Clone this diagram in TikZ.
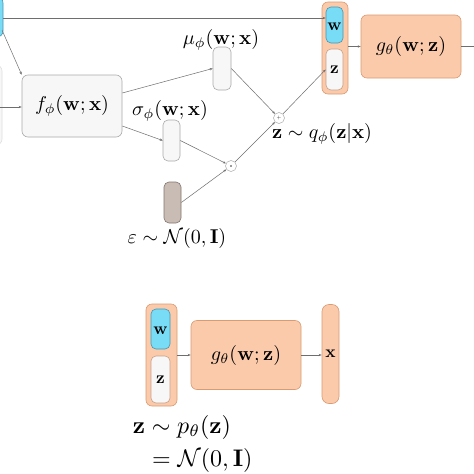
\documentclass[tikz,border=0pt]{standalone}
\usepackage{amsmath,amssymb}
\usetikzlibrary{arrows.meta,calc}
\definecolor{peach}{RGB}{250,202,170}
\definecolor{peachdk}{RGB}{218,155,115}
\definecolor{cyanb}{RGB}{120,220,246}
\definecolor{cyandk}{RGB}{70,150,180}
\definecolor{lgray}{RGB}{247,247,247}
\definecolor{lgraydk}{RGB}{170,170,170}
\definecolor{epsf}{RGB}{200,188,180}
\definecolor{epsdk}{RGB}{130,118,110}
\definecolor{linec}{RGB}{110,110,110}
\newcommand{\tl}[1]{\scalebox{2}{#1}}
\newcommand{\bl}[1]{\scalebox{2.4}{#1}}
\newcommand{\il}[1]{\scalebox{1.7}{#1}}
\tikzset{
  x=1pt,y=-1pt,
  box/.style={draw, rounded corners=6pt, inner sep=0pt, line width=0.6pt},
  graybox/.style={box, fill=lgray, draw=lgraydk},
  peachbox/.style={box, fill=peach, draw=peachdk},
  cyanbox/.style={box, fill=cyanb, draw=cyandk},
  epsbox/.style={box, fill=epsf, draw=epsdk},
  opc/.style={circle, draw=lgraydk, fill=white, inner sep=0pt, minimum size=11pt, line width=0.5pt},
  conn/.style={draw=linec, line width=0.5pt, -{Stealth[length=3pt,width=2.4pt]}},
  plain/.style={draw=linec, line width=0.5pt},
  lab/.style={inner sep=0pt},
}
\begin{document}
\begin{tikzpicture}
\useasboundingbox (0,0) rectangle (474,474);
\clip (0,0) rectangle (474,474);
\fill[white] (0,0) rectangle (474,474);
% partial items at the left edge
\node[cyanbox, minimum width=20pt, minimum height=40pt] (lw) at (-7,17) {};
\node[graybox, draw=lgray!70!lgraydk, minimum width=24pt, minimum height=80pt] (lx) at (-10,105) {};
\coordinate (lxe) at (0,107);
% encoder
\node[graybox, minimum width=100pt, minimum height=62pt] (f) at (72,106) {};
\node[lab] at (72,106) {\tl{$f_\phi(\mathbf{w};\mathbf{x})$}};
\node[graybox, rounded corners=5pt, minimum width=18pt, minimum height=43pt] (mu) at (222,68.5) {};
\node[lab] (mul) at (221,40) {\tl{$\mu_\phi(\mathbf{w};\mathbf{x})$}};
\node[graybox, rounded corners=5pt, minimum width=17pt, minimum height=41pt] (sig) at (171.5,140.5) {};
\node[lab] (sigl) at (170,111) {\tl{$\sigma_\phi(\mathbf{w};\mathbf{x})$}};
\node[epsbox, rounded corners=5pt, minimum width=17pt, minimum height=41pt] (eps) at (172.5,202.5) {};
\node[lab] (epsl) at (177,238) {\tl{$\varepsilon\sim\mathcal{N}(0,\mathbf{I})$}};
\node[opc] (dot) at (231,166) {};
\fill[black!80] (dot.center) circle (0.9pt);
\node[opc] (plus) at (279,118) {\scalebox{0.6}{$+$}};
\node[lab] (zq) at (322,134) {\tl{$\mathbf{z}\sim q_\phi(\mathbf{z}|\mathbf{x})$}};
% top concat and decoder
\node[peachbox, minimum width=26pt, minimum height=92pt] (cat) at (335,48) {};
\node[cyanbox, rounded corners=5pt, minimum width=17pt, minimum height=36pt] (cw) at (334.5,25) {};
\node[lab] at ($(cw)+(0,2)$) {\il{$\mathbf{w}$}};
\node[graybox, draw=peachdk!60!lgraydk, rounded corners=5pt, minimum width=17pt, minimum height=41pt] (cz) at (334.5,69.5) {};
\node[lab] at (cz) {\il{$\mathbf{z}$}};
\node[peachbox, minimum width=100pt, minimum height=63pt] (g) at (411,46.5) {};
\node[lab] at (g) {\tl{$g_\theta(\mathbf{w};\mathbf{z})$}};
\coordinate (gout) at (474,46.5);
% connectors top
\draw[conn] (lw.east |- 0,18) -- (cw.west |- 0,18);
\coordinate (lwd) at (2,30);
\draw[conn] (lwd) -- (f.north west);
\draw[conn] (lxe) -- (f.west |- lxe);
\draw[conn] ($(f.east)+(0,-13)$) -- (mu.west);
\draw[conn] ($(f.east)+(0,20)$) -- (sig.west);
\draw[conn] (mu.east) -- (plus);
\draw[conn] (sig.east) -- (dot);
\draw[conn] (eps.east) -- (dot);
\draw[conn] (dot) -- (plus);
\draw[conn] (plus) -- (cz.west);
\draw[conn] (cat.east |- g.west) -- (g.west);
\draw[plain] (g.east) -- (gout);
% bottom generative model
\node[peachbox, minimum width=31pt, minimum height=102pt] (cat2) at (161.5,355) {};
\node[cyanbox, rounded corners=5pt, minimum width=19pt, minimum height=40pt] (cw2) at (160.5,329) {};
\node[lab] at ($(cw2)+(0,2)$) {\il{$\mathbf{w}$}};
\node[graybox, draw=peachdk!60!lgraydk, rounded corners=5pt, minimum width=19pt, minimum height=47pt] (cz2) at (160.5,379.5) {};
\node[lab] at (cz2) {\il{$\mathbf{z}$}};
\node[peachbox, minimum width=110pt, minimum height=69pt] (g2) at (246,355) {};
\node[lab] at (g2) {\tl{$g_\theta(\mathbf{w};\mathbf{z})$}};
\node[peachbox, rounded corners=7pt, minimum width=17pt, minimum height=99pt] (xb) at (330.5,354) {};
\node[lab] at (xb) {\il{$\mathbf{x}$}};
\draw[conn] (cat2.east |- g2.west) -- (g2.west);
\draw[conn] (g2.east) -- (xb.west |- g2.east);
\node[lab] (pz) at (182,427) {\bl{$\mathbf{z}\sim p_\theta(\mathbf{z})$}};
\node[lab, anchor=west] (nz) at (152,460) {\bl{$=\mathcal{N}(0,\mathbf{I})$}};
\end{tikzpicture}
\end{document}
